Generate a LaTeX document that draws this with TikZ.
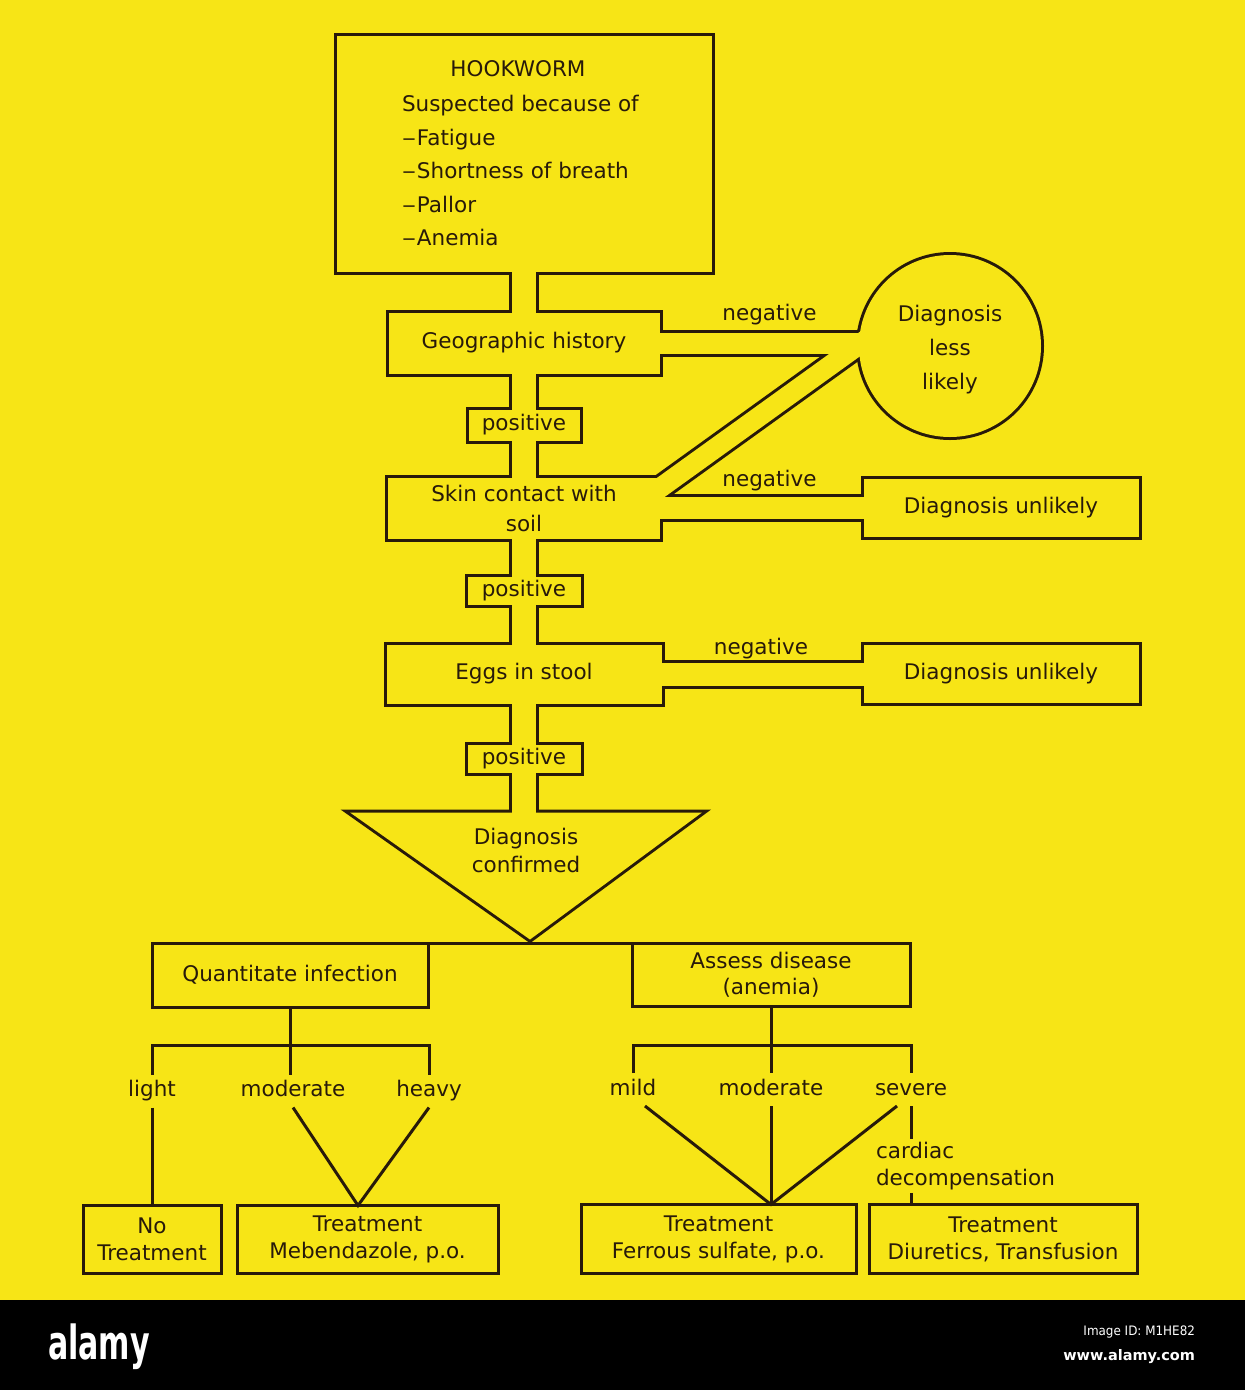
\documentclass[tikz,border=0pt]{standalone}
\usepackage{fontspec}
\setmainfont{DejaVu Sans}
\usepackage{graphicx}

\definecolor{paper}{RGB}{247,229,22}
\definecolor{ink}{RGB}{40,26,10}

\pgfdeclarelayer{backdrop}
\pgfdeclarelayer{outline}
\pgfdeclarelayer{fillin}
\pgfsetlayers{backdrop,outline,fillin,main}

\newcommand*{\colx}{524}
\newcommand*{\rim}{6pt}
\newcommand*{\dash}{\scalebox{1.3}[1]{--}\kern1pt}

% a chamber of the channel chart: thick ink first, paper over it
\newcommand*{\chamber}[1]{%
	\begin{pgfonlayer}{outline}\draw[ink,line width=\rim] #1;\end{pgfonlayer}%
	\begin{pgfonlayer}{fillin}\fill[paper] #1;\end{pgfonlayer}}
% a channel between two chambers
\newcommand*{\channel}[3]{%
	\begin{pgfonlayer}{outline}\draw[ink,line width=#3+\rim] (#1) -- (#2);\end{pgfonlayer}%
	\begin{pgfonlayer}{fillin}\draw[paper,line width=#3] (#1) -- (#2);\end{pgfonlayer}}

\begin{document}
\begin{tikzpicture}
[
	x=1pt, y=-1pt,
	every node/.style={text=ink, font=\fontsize{21.5}{28}\selectfont, inner sep=0pt, outer sep=0pt},
	cell/.style 2 args={rectangle, minimum width=#1, minimum height=#2, align=center},
	framebox/.style 2 args={cell={#1}{#2}, draw=ink, line width=3pt},
	branch/.style={text height=16pt, text depth=5pt, outer sep=6pt},
	link/.style={draw=ink, line width=3pt}
]

	\useasboundingbox (0,0) rectangle (1245,1390);
	\begin{pgfonlayer}{backdrop}
		\fill[paper] (0,0) rectangle (1245,1300);
		\fill[black] (0,1300) rectangle (1245,1390);
	\end{pgfonlayer}

	% main column
	\node[cell={375pt}{236pt}] (hook) at (\colx,153.5) {};
	\node (hooktitle) at (518,68.5) {HOOKWORM};
	\node[anchor=west, align=left, font=\fontsize{21.5}{33.5}\selectfont] (signs) at (402,170.5) {Suspected because of\\\dash Fatigue\\\dash Shortness of breath\\\dash Pallor\\\dash Anemia};
	\node[cell={271pt}{61pt}] (geo) at (\colx,343) {Geographic history};
	\node[cell={111pt}{31pt}] (pos1) at (\colx,425) {positive};
	\node[cell={272pt}{61pt}, font=\fontsize{21.5}{30}\selectfont] (skin) at (\colx,508) {Skin contact with\\soil};
	\node[cell={113pt}{28pt}] (pos2) at (\colx,590.5) {positive};
	\node[cell={275pt}{59pt}] (eggs) at (\colx,674) {Eggs in stool};
	\node[cell={113pt}{28pt}] (pos3) at (\colx,758.5) {positive};
	\node[align=center, font=\fontsize{21.5}{28.5}\selectfont] (confirmed) at (526,850.5) {Diagnosis\\confirmed};
	\coordinate (tl) at (350,812.5);
	\coordinate (tr) at (702,812.5);
	\coordinate (apex) at (530,939.5);

	% side branches
	\node[circle, minimum size=182pt, align=center, font=\fontsize{21.5}{34}\selectfont] (less) at (950,349.5) {Diagnosis\\less\\likely};
	\node[cell={275pt}{58pt}] (unl1) at (1001,508) {Diagnosis unlikely};
	\node[cell={275pt}{58pt}] (unl2) at (1001,674) {Diagnosis unlikely};
	\node[branch] (neg1) at (769.5,315) {negative};
	\node[branch] (neg2) at (769.5,480.5) {negative};
	\node[branch] (neg3) at (761,649) {negative};
	\coordinate (slantA) at (640,502.4);
	\coordinate (slantB) at (900,315.2);

	\chamber{(hook.south west) rectangle (hook.north east)}
	\chamber{(geo.south west) rectangle (geo.north east)}
	\chamber{(pos1.south west) rectangle (pos1.north east)}
	\chamber{(skin.south west) rectangle (skin.north east)}
	\chamber{(pos2.south west) rectangle (pos2.north east)}
	\chamber{(eggs.south west) rectangle (eggs.north east)}
	\chamber{(pos3.south west) rectangle (pos3.north east)}
	\chamber{(tl) -- (tr) -- (apex) -- cycle}
	\chamber{([yshift=3.5pt]less.center) circle[radius=91pt]}
	\chamber{(unl1.south west) rectangle (unl1.north east)}
	\chamber{(unl2.south west) rectangle (unl2.north east)}

	\channel{hook.center}{geo.center}{24pt}
	\channel{geo.center}{pos1.center}{24pt}
	\channel{pos1.center}{skin.center}{24pt}
	\channel{skin.center}{pos2.center}{24pt}
	\channel{pos2.center}{eggs.center}{24pt}
	\channel{eggs.center}{pos3.center}{24pt}
	\channel{pos3.center}{pos3.center |- confirmed.center}{24pt}
	\channel{geo.center}{geo.center -| less.center}{21pt}
	\channel{slantA}{slantB}{20pt}
	\channel{skin.center}{skin.center -| unl1.center}{22pt}
	\channel{eggs.center}{eggs.center -| unl2.center}{23pt}

	% treatment tree
	\node[framebox={276pt}{64pt}] (quant) at (290,975) {Quantitate infection};
	\node[framebox={278pt}{63pt}, font=\fontsize{21.5}{26}\selectfont] (assess) at (771,974.5) {Assess disease\\(anemia)};
	\draw[link] (quant.north east) -- (assess.north west);

	\node[branch] (light) at (152,1091) {light};
	\node[branch] (qmod) at (293,1091) {moderate};
	\node[branch] (heavy) at (429,1091) {heavy};
	\node[branch] (mild) at (633,1089.5) {mild};
	\node[branch] (amod) at (771,1089.5) {moderate};
	\node[branch] (severe) at (911,1089.5) {severe};
	\node[anchor=west, align=left, font=\fontsize{21.5}{26.7}\selectfont, outer sep=3pt] (cardiac) at (873,1166) {cardiac\\decompensation};

	\node[framebox={138pt}{68pt}, font=\fontsize{21.5}{27}\selectfont] (notreat) at (152,1239.5) {No\\Treatment};
	\node[framebox={261pt}{68pt}, font=\fontsize{21.5}{27}\selectfont] (meben) at (367.5,1239.5) {Treatment\\Mebendazole, p.o.};
	\node[framebox={275pt}{69pt}, font=\fontsize{21.5}{27}\selectfont] (ferrous) at (718.5,1239) {Treatment\\Ferrous sulfate, p.o.};
	\node[framebox={268pt}{69pt}, font=\fontsize{21.5}{27}\selectfont] (diuretics) at (1003,1239) {Treatment\\Diuretics, Transfusion};

	\coordinate (qbar) at (290,1045);
	\coordinate (abar) at (771,1045);
	\coordinate (qjoin) at (358,1205.5);
	\coordinate (fjoin) at (amod |- ferrous.north);

	\draw[link] (quant.south) -- (qbar);
	\draw[link] (light.north) |- (qbar) -| (heavy.north);
	\draw[link] (qbar) -- (qbar |- qmod.north);
	\draw[link] (light.south) -- (light.south |- notreat.north);
	\draw[link] (qmod.south) -- (qjoin) -- (heavy.south);

	\draw[link] (assess.south) -- (abar);
	\draw[link] (mild.north) |- (abar) -| (severe.north);
	\draw[link] (abar) -- (amod.north);
	\draw[link] ([xshift=12pt]mild.south) -- (fjoin) -- ([xshift=-14pt]severe.south);
	\draw[link] (amod.south) -- (fjoin);
	\draw[link] (severe.south) -- (severe.south |- cardiac.north);
	\draw[link] (severe.south |- cardiac.south) -- (severe.south |- diuretics.north);

	% strip
	\node[text=white, font=\bfseries\fontsize{47}{47}\selectfont, anchor=west] (logo) at (48,1346.5) {\scalebox{0.64}[1]{alamy}};
	\node[text=white, font=\fontsize{13}{13}\selectfont, anchor=east] (imageid) at (1195,1332) {\scalebox{0.92}[1]{Image ID: M1HE82}};
	\node[text=white, font=\bfseries\fontsize{14.5}{14.5}\selectfont, anchor=east] (site) at (1195,1357) {www.alamy.com};

\end{tikzpicture}
\end{document}
